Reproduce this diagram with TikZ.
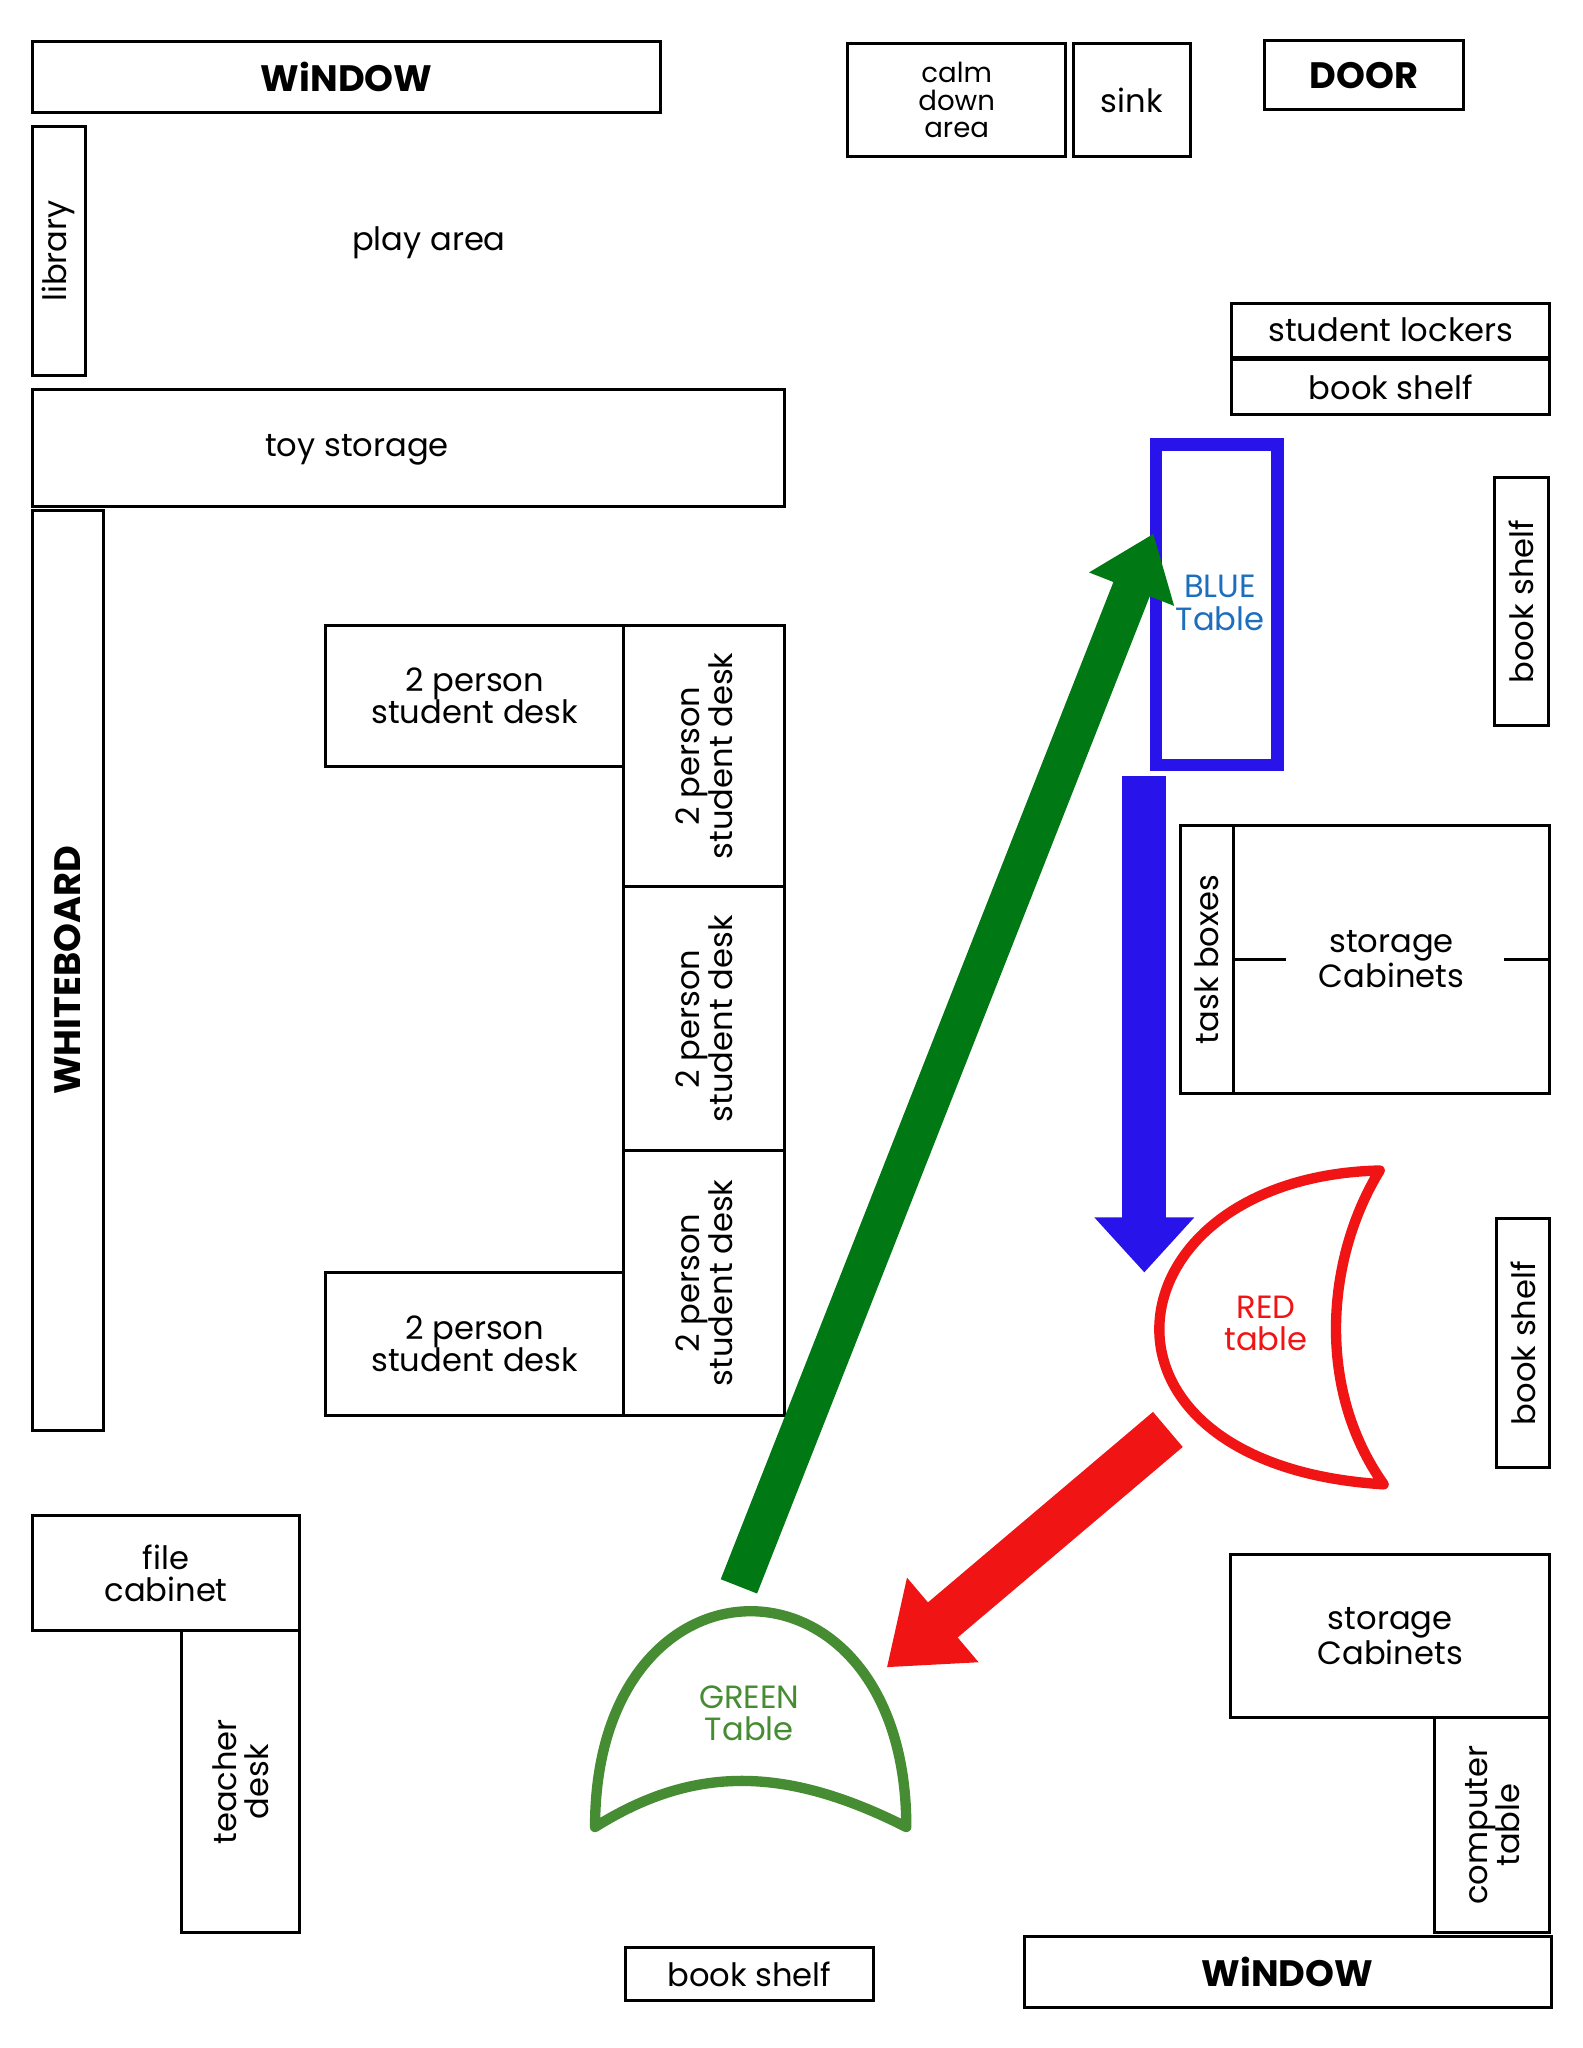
\documentclass[tikz,border=0pt]{standalone}
\usepackage{fontspec}
\setmainfont{Poppins}
\usetikzlibrary{arrows.meta}
\definecolor{bluet}{RGB}{40,20,235}
\definecolor{bluetxt}{RGB}{30,110,190}
\definecolor{greenar}{RGB}{0,120,20}
\definecolor{greent}{RGB}{70,140,50}
\definecolor{redt}{RGB}{240,20,20}
\tikzset{boxline/.style={draw=black,line width=1.3pt},
 lbl/.style={font=\fontsize{14}{14}\selectfont,align=center,inner sep=0pt},
 blbl/.style={font=\fontsize{16}{16}\selectfont\bfseries,align=center,inner sep=0pt}}
\newcommand\bx[6]{\draw[boxline] (#1,#2) rectangle (#3,#4) node[midway,#5]{#6};}
\begin{document}
\begin{tikzpicture}[x=0.02cm,y=-0.02cm]
\fill[white] (0,0) rectangle (1210,1566);
\useasboundingbox (0,0) rectangle (1210,1566);
\bx{25}{32}{505}{86}{blbl}{WiNDOW}
\bx{648}{33}{815}{120}{lbl,font=\fontsize{12}{12}\selectfont}{calm\\down\\area}
\bx{821}{33}{910}{120}{lbl}{sink}
\bx{967}{31}{1119}{84}{blbl}{DOOR}
\bx{25}{97}{65}{287}{lbl,rotate=90}{library}
\node[lbl] (play) at (328,186) {play area};
\bx{942}{232}{1185}{273}{lbl}{student lockers}
\bx{942}{275}{1185}{317}{lbl}{book shelf}
\draw[boxline] (25,298) rectangle (600,387);
\node[lbl] (toy) at (273,344) {toy storage};
\bx{25}{390}{79}{1094}{blbl,rotate=90}{WHITEBOARD}
\bx{1143}{365}{1184}{555}{lbl,rotate=90}{book shelf}
\bx{249}{478}{477}{586}{lbl}{2 person\\student desk}
\bx{477}{478}{600}{678}{lbl,rotate=90}{2 person\\student desk}
\bx{477}{678}{600}{880}{lbl,rotate=90}{2 person\\student desk}
\bx{477}{880}{600}{1082}{lbl,rotate=90}{2 person\\student desk}
\bx{249}{973}{477}{1082}{lbl}{2 person\\student desk}
\bx{903}{631}{943}{836}{lbl,rotate=90}{task boxes}
\bx{943}{631}{1185}{836}{lbl}{storage\\Cabinets}
\draw[boxline] (943,734) -- (983,734) (1150,734) -- (1185,734);
\bx{1144}{932}{1185}{1122}{lbl,rotate=90}{book shelf}
\bx{25}{1159}{229}{1247}{lbl}{file\\cabinet}
\bx{139}{1247}{229}{1478}{lbl,rotate=90}{teacher\\desk}
\bx{941}{1189}{1185}{1313}{lbl}{storage\\Cabinets}
\bx{1097}{1313}{1185}{1478}{lbl,rotate=90}{computer\\table}
\bx{478}{1489}{668}{1530}{lbl}{book shelf}
\bx{783}{1481}{1186}{1535}{blbl}{WiNDOW}
% blue table
\draw[bluet,line width=5.5pt] (884,340) rectangle (977,585);
\node[lbl,text=bluetxt] (blue) at (933,461) {BLUE\\Table};
% red table
\draw[redt,line width=4.5pt,line join=round] (1055,895) .. controls (845,900) and (815,1120) .. (1058,1135) .. controls (1005,1060) and (1015,960) .. cycle;
\node[lbl,text=redt] (red) at (968,1012) {RED\\table};
% green table
\draw[greent,line width=4.5pt,line join=round] (455,1397) .. controls (455,1177) and (693,1177) .. (693,1397) .. controls (600,1350) and (530,1350) .. cycle;
\node[lbl,text=greent] (green) at (573,1310) {GREEN\\Table};
% arrows
\coordinate (b1) at (875,593); \coordinate (b2) at (875,973);
\draw[bluet,line width=19pt,-{Triangle[width=42pt,length=24pt]}] (b1) -- (b2);
\coordinate (g1) at (565,1213); \coordinate (g2) at (882,408);
\draw[greenar,line width=17pt,-{Triangle[width=38pt,length=26pt]}] (g1) -- (g2);
\coordinate (r1) at (893,1093); \coordinate (r2) at (678,1275);
\draw[redt,line width=20pt,-{Triangle[width=46pt,length=32pt]}] (r1) -- (r2);
\end{tikzpicture}
\end{document}
